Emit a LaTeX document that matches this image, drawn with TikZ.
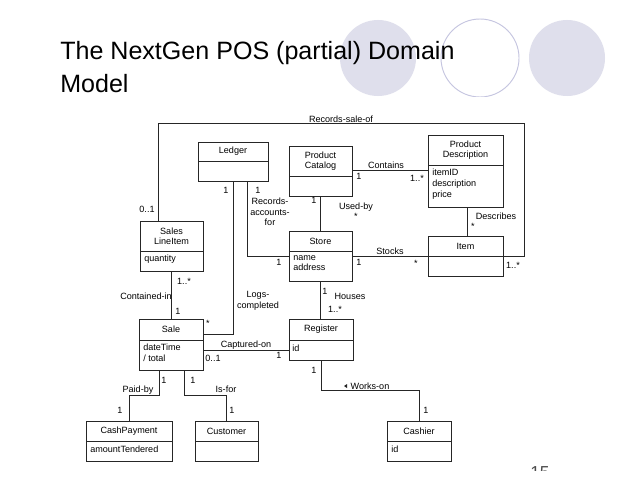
\documentclass[tikz,border=0pt]{standalone}
\usepackage{fontspec}
\setmainfont{Liberation Sans}
\begin{document}
\begin{tikzpicture}[x=0.75pt,y=-0.75pt,
  cls/.style={draw=black!85,line width=0.7pt,fill=white},
  ln/.style={draw=black!85,line width=0.7pt},
  lb/.style={font=\fontsize{6.8}{7.8}\selectfont,inner sep=0pt,align=center},
  attr/.style={font=\fontsize{6.8}{8}\selectfont,inner sep=0pt,align=left,anchor=north west},
  circ/.style={fill=blue!25!gray!20}]
\useasboundingbox (0,0) rectangle (638,478);
\fill[white] (0,0) rectangle (638,478);
\begin{scope}
\clip (0,0) rectangle (638,96);
\fill[circ] (378,58) circle (38);
\draw[blue!30!gray!35,line width=0.7pt] (480,58) circle (39);
\fill[circ] (567,58) circle (38);
\end{scope}
\node[anchor=base west,inner sep=0pt,font=\fontsize{18.8}{22}\selectfont] (t1) at (60,60) {The NextGen POS (partial) Domain};
\node[anchor=base west,inner sep=0pt,font=\fontsize{18.8}{22}\selectfont] (t2) at (60,92) {Model};
\begin{scope}
\clip (0,0) rectangle (638,470);
\node[anchor=base west,inner sep=0pt,font=\fontsize{13}{15}\selectfont,text=black!70] (pg) at (530,478) {15};
\end{scope}
% connectors
\coordinate (rs1) at (158,123); \coordinate (rs2) at (524,123); \coordinate (rs3) at (524,256);
\draw[ln] (158,221) -- (rs1) -- (rs2) -- (rs3) -- (503,256);
\draw[ln] (233,181) -- (233,334) -- (203,334);
\draw[ln] (247,181) -- (247,256) -- (289,256);
\draw[ln] (320,196) -- (320,231);
\draw[ln] (352,170) -- (428,170);
\draw[ln] (467,207) -- (467,236);
\draw[ln] (352,256) -- (428,256);
\draw[ln] (171,271) -- (171,319);
\draw[ln] (320,281) -- (320,319);
\draw[ln] (203,350) -- (289,350);
\draw[ln] (159,370) -- (159,395) -- (129,395) -- (129,421);
\draw[ln] (184,370) -- (184,395) -- (226,395) -- (226,421);
\draw[ln] (321,360) -- (321,390) -- (419,390) -- (419,421);
% classes
\newcommand{\umlcls}[7]{% name, x1,y1,x2,ydiv,y2, title
  \draw[cls] (#2,#3) rectangle (#4,#6);
  \draw[ln] (#2,#5) -- (#4,#5);
  \node[lb] (#1) at ({(#2+#4)/2},{(#3+#5)/2}) {#7};}
\umlcls{ledger}{198}{142}{268}{161}{181}{Ledger}
\umlcls{catalog}{289}{146}{352}{176}{196}{Product\\Catalog}
\umlcls{pdesc}{428}{135}{503}{165}{207}{Product\\Description}
\umlcls{sli}{140}{221}{203}{251}{271}{Sales\\LineItem}
\umlcls{store}{289}{231}{352}{251}{281}{Store}
\umlcls{item}{428}{236}{503}{256}{276}{Item}
\umlcls{sale}{139}{319}{203}{340}{370}{Sale}
\umlcls{reg}{289}{319}{353}{340}{360}{Register}
\umlcls{cash}{86}{421}{172}{441}{461}{CashPayment}
\umlcls{cust}{195}{421}{258}{441}{461}{Customer}
\umlcls{cashier}{387}{421}{451}{441}{461}{Cashier}
\node[attr] (a1) at (432,169) {itemID\\description\\price};
\node[attr] (a2) at (144,255) {quantity};
\node[attr] (a3) at (293,255) {name\\address};
\node[attr] (a4) at (143,344) {dateTime\\/ total};
\node[attr] (a5) at (292,345) {id};
\node[attr] (a6) at (90,446) {amountTendered};
\node[attr] (a7) at (391,446) {id};
% labels
\node[lb] (l1) at (341,119) {Records-sale-of};
\node[lb] (l2) at (147,209) {0..1};
\node[lb] (l3) at (226,190) {1};
\node[lb] (l4) at (258,190) {1};
\node[lb] (l5) at (270,212) {Records-\\accounts-\\for};
\node[lb] (l6) at (314,200) {1};
\node[lb] (l7) at (356,211) {Used-by\\*};
\node[lb] (l8) at (359,176) {1};
\node[lb] (l9) at (386,165) {Contains};
\node[lb] (l10) at (417,178) {1..*};
\node[lb] (l11) at (496,216) {Describes};
\node[lb] (l12) at (473,226) {*};
\node[lb] (l13) at (279,262) {1};
\node[lb] (l14) at (359,262) {1};
\node[lb] (l15) at (390,251) {Stocks};
\node[lb] (l16) at (416,263) {*};
\node[lb] (l17) at (513,265) {1..*};
\node[lb] (l18) at (184,281) {1..*};
\node[lb] (l19) at (146,296) {Contained-in};
\node[lb] (l20) at (178,311) {1};
\node[lb] (l21) at (258,301) {Logs-\\completed};
\node[lb] (l22) at (208,323) {*};
\node[lb] (l23) at (325,291) {1};
\node[lb] (l24) at (350,296) {Houses};
\node[lb] (l25) at (335,309) {1..*};
\node[lb] (l26) at (246,345) {Captured-on};
\node[lb] (l27) at (213,358) {0..1};
\node[lb] (l28) at (279,355) {1};
\node[lb] (l29) at (314,370) {1};
\node[lb] (l30) at (164,380) {1};
\node[lb] (l31) at (193,380) {1};
\node[lb] (l32) at (138,390) {Paid-by};
\node[lb] (l33) at (226,389) {Is-for};
\node[lb] (l34) at (370,386) {Works-on};
\fill[black!85] (344,386) -- (347,384) -- (347,388) -- cycle;
\node[lb] (l35) at (120,410) {1};
\node[lb] (l36) at (232,410) {1};
\node[lb] (l37) at (426,410) {1};
\end{tikzpicture}
\end{document}
